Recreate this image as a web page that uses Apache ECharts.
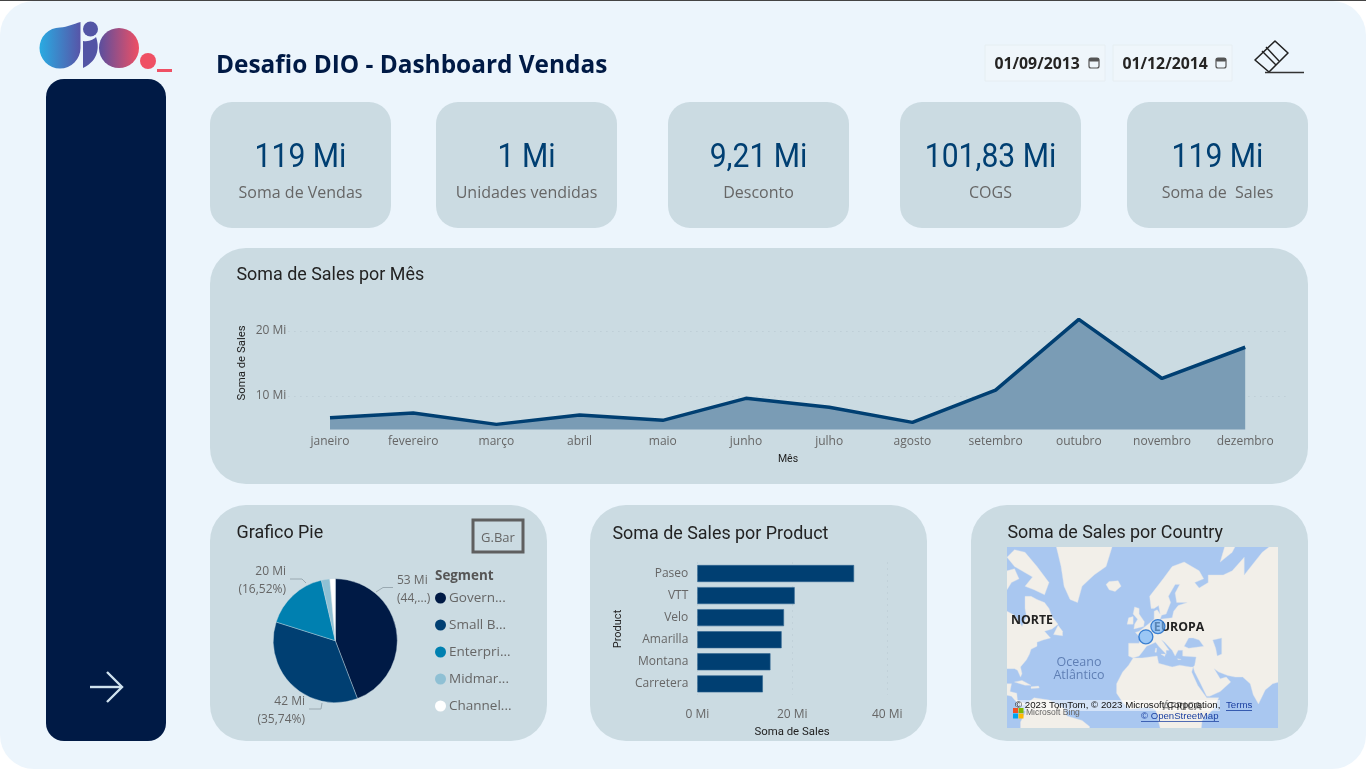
<!DOCTYPE html>
<html><head><meta charset="utf-8">
<script src="https://cdn.jsdelivr.net/npm/echarts@6/dist/echarts.min.js"></script>
<style>html,body{margin:0;padding:0;background:#fff;overflow:hidden}#c{width:1366px;height:769px}</style>
</head><body><div id="c"></div>
<script>
// ---------- data ----------
const months = ['janeiro','fevereiro','março','abril','maio','junho','julho','agosto','setembro','outubro','novembro','dezembro'];
const monthSales = [6.67,7.38,5.64,7.08,6.26,9.64,8.26,5.95,10.9,21.8,12.7,17.5];
const products = ['Paseo','VTT','Velo','Amarilla','Montana','Carretera'];
const productSales = [33,20.5,18.25,17.75,15.4,13.8];
const segments = ['Government','Small Business','Enterprise','Midmarket','Channel Partners'];
const segmentSales = [52.6,42.47,19.66,2.6,1.7];
const segmentPct = ['44,...','35,74%','16,52%','',''];
const kpiValues = ['119 Mi','1 Mi','9,21 Mi','101,83 Mi','119 Mi'];
const kpiNames = ['Soma de Vendas','Unidades vendidas','Desconto','COGS','Soma de  Sales'];
const countries = ['France','Germany'];
const countryLon = [2.5,10.5];
const countryLat = [46.5,51];
// coarse coastlines [lon,lat]
const landShapes = [
 [[-100,30],[-90,30],[-85,30],[-83,29],[-81,25],[-80,27],[-81,31],[-77,35],[-75,38],[-74,40.5],[-70,42],[-70,44],[-66,45],[-61,46],[-65,49],[-60,50],[-56,52],[-60,55],[-62,58],[-65,60],[-70,61],[-74,62],[-78,62],[-78,58],[-77,55],[-80,51],[-82,53],[-85,55.5],[-90,57],[-94,59],[-94,62],[-90,64],[-87,66],[-82,67],[-85,69.5],[-90,69],[-95,68],[-100,68]],
 [[-100,17],[-95,16],[-92,14],[-87,13],[-84,9.5],[-80,7],[-77,8],[-80,9],[-83,10],[-83.5,15],[-88,16],[-87,21],[-90,21],[-91,18.5],[-95,18],[-97,22],[-97,28],[-100,28]],
 [[-90,72],[-85,73.5],[-78,73],[-70,70],[-62,66],[-65,62.5],[-72,64],[-78,65],[-73,67.5],[-85,70]],
 [[-100,76],[-80,76],[-78,74.5],[-92,74]],
 [[-59,47.5],[-53,47],[-53,49],[-56,51.5]],
 [[-85,22],[-80,23],[-74,20],[-78,20]],
 [[-74,19],[-69,19.5],[-68.5,18.3],[-74,18]],
 [[-73,78],[-60,82],[-30,84],[-18,80],[-20,74],[-24,70],[-32,68],[-40,65],[-43,60],[-48,61],[-52,65],[-54,70],[-58,75],[-68,76]],
 [[-24,65.5],[-22,64],[-18,63.5],[-14,65],[-16,66.5],[-22,66.3]],
 [[-5.5,50],[1,51],[1.5,53],[-2,56],[-2,58],[-5,58.5],[-6,56],[-3,54],[-5,52]],
 [[-10,52],[-6,52],[-6,55],[-9,54.5]],
 [[12,79],[25,80],[20,77]],
 [[52,71],[56,75],[68,77],[60,73]],
 [[-9,37],[-6,36],[-2,37],[0,39],[3,42],[6,43],[9,44],[11,42],[16,38],[16,40],[18,40],[13,45],[15,44],[20,40],[22,37],[24,40],[27,40],[27,37],[36,36.5],[35,32],[34,31],[35,28],[39,21],[43,13],[45,13],[52,16],[59,22],[56,25],[52,24],[48,30],[51,28],[57,26],[62,25],[67,25],[72,21],[74,14],[77.5,8],[80,13],[82,17],[87,21],[91,22],[94,17],[97,16],[100,13],[100,77],[80,73],[68,68],[68,72],[60,69],[54,68],[44,68],[44,66],[38,64.5],[35,66],[41,67],[38,69],[28,71],[20,70],[14,67],[5,62],[6,58],[8,58],[11,59],[12,56],[10,57.5],[8,57],[8,54],[4,52],[1,50.5],[-2,49],[-4.5,48.5],[-1,46],[-2,43.5],[-9,43.5]],
 [[-17,15],[-17,21],[-13,28],[-9,32],[-6,36],[0,36],[10,37],[11,33],[20,31],[25,32],[32,31],[34,31],[33,28],[37,20],[43,12],[51,12],[48,5],[40,-3],[39,-12],[13,-12],[9,4],[4,6],[-8,4.5],[-13,9]],
 [[-81,-12],[-81,-4],[-78,2],[-77,8],[-72,12],[-62,10.5],[-52,5],[-50,0],[-40,-3],[-35,-7],[-35,-12]],
 [[9,41],[9.7,41],[9.5,39],[8.5,39]],[[12.5,38],[15.5,38],[15,36.8]],[[23.5,35.5],[26,35.2],[24,35]]
];
const waterShapes = [
 [[12,54],[20,54.5],[21,57],[24,59],[30,60],[23,60],[22,63],[25,65.5],[22,65.5],[17.5,62],[19,60],[16,56],[13,55.5]],
 [[28,42],[31,46],[34,46],[38,45],[41,42],[36,41.5],[31,41]],
 [[47,45],[53,46],[53,38],[50,37],[49,41]]
];
// ---------- helpers ----------
const merc = lat => Math.log(Math.tan(Math.PI/4 + lat*Math.PI/360))*180/Math.PI;
const SEG = '"Open Sans","Noto Sans",sans-serif';
const DIN = 'Roboto,"Noto Sans",sans-serif';
const PANEL = '#cbdbe2', NAVY = '#001a45', BLUE = '#003f72', GREY = '#666666';
const G = echarts.graphic;
G.registerShape('logoD',G.extendPath('M80.5 22 L80.5 48 A20.5 20.5 0 1 1 60 27.5 C68 27 73 24 80.5 22 Z'));
G.registerShape('logoI',G.extendPath('M83 41 C90 42 94 39 96 37 C99 45 100 60 83 68 Z'));
const rect = (x,y,w,h,r,fill,extra) => Object.assign({type:'rect',z:-5,silent:true,shape:{x,y,width:w,height:h,r},style:Object.assign({fill},extra||{})});
const text = (t,x,y,font,fill,align,extra,z) => Object.assign({type:'text',z:z===undefined?1:z,silent:true,x,y,style:{text:t,font,fill,align:align||'left',verticalAlign:'middle'}},extra||{});
const calIcon = x => [rect(x,58,10,10,2,'none',{stroke:'#555',lineWidth:1.2}),rect(x,58,10,3.5,1,'#555')];
const leader = pts => ({type:'polyline',z:1,silent:true,shape:{points:pts},style:{stroke:'#9aa9b1',lineWidth:1,fill:'none'}});

const g = [];
g.push(rect(0,0,1366,769,0,'#ffffff'));
g.push(rect(0,0,1366,1,0,'#444444'));
g.push(rect(0,1,1366,768,[34,34,34,34],'#ecf5fc'));
g.push(rect(46,79,120,662,18,NAVY));
// logo
g.push({type:'logoD',z:1,silent:true,style:{fill:new G.LinearGradient(0,0,1,0,[{offset:0,color:'#29abe2'},{offset:1,color:'#5755a8'}])}});
g.push({type:'circle',z:1,silent:true,shape:{cx:90.5,cy:29,r:7.5},style:{fill:'#5355a5'}});
g.push({type:'logoI',z:1,silent:true,style:{fill:'#5355a5'}});
g.push({type:'circle',z:1,silent:true,shape:{cx:119,cy:48,r:20},style:{fill:new G.LinearGradient(0,0,1,0,[{offset:0,color:'#5a4e9e'},{offset:1,color:'#ef5064'}])}});
g.push({type:'circle',z:1,silent:true,shape:{cx:148,cy:61,r:8},style:{fill:'#ef5064'}});
g.push(Object.assign(rect(157,69,15,3,0,'#ef5064'),{z:1}));
g.push(text('Desafio DIO - Dashboard Vendas',216,66,'bold 24.4px '+SEG,NAVY));
// date slicers
[[985,'01/09/2013',1089],[1113,'01/12/2014',1216]].forEach(([x,t,ix])=>{
  g.push(rect(x,45,x===985?120:119,36,0,'#eff6fb',{stroke:'#e6eef2',lineWidth:1}));
  g.push(text(t,x+9.5,64,'bold 15.8px '+SEG,'#252423'));
  calIcon(ix).forEach(e=>{e.z=1;g.push(e)});
});
// eraser
g.push({type:'polygon',z:1,silent:true,shape:{points:[[1275,41],[1288,53],[1269,72],[1255,60]]},style:{fill:'none',stroke:'#222',lineWidth:1.6,lineJoin:'round'}});
[[1262,51,1276,65],[1266,47,1279,61]].forEach(p=>g.push({type:'line',z:1,silent:true,shape:{x1:p[0],y1:p[1],x2:p[2],y2:p[3]},style:{stroke:'#222',lineWidth:1.4}}));
g.push({type:'line',z:1,silent:true,shape:{x1:1265,y1:72.5,x2:1304,y2:72.5},style:{stroke:'#333',lineWidth:1.4}});
// kpi cards
[210,436,668,900,1127].forEach((x,i)=>{
  g.push(rect(x,102,181,126,22,PANEL));
  g.push(text(kpiValues[i],x+90.5,159,'32px '+DIN,BLUE,'center',{scaleX:0.94,scaleY:1.03}));
  g.push(text(kpiNames[i],x+90.5,193,'16px '+SEG,GREY,'center'));
});
// panels
g.push(rect(210,248,1098,236,36,PANEL));
[210,590,971].forEach(x=>g.push(rect(x,505,337,236,36,PANEL)));
const tf = '17.9px '+DIN;
g.push(text('Soma de Sales por Mês',236.5,276,tf,'#222'));
g.push(text('Grafico Pie',236.5,534,tf,'#222'));
g.push(text('Soma de Sales por Product',612.5,535,tf,'#222'));
g.push(text('Soma de Sales por Country',1007.5,534,tf,'#222'));
// axis names
g.push(text('Soma de Sales',242,363,'11.4px '+DIN,'#222','center',{rotation:Math.PI/2}));
g.push(text('Mês',788,459,'10.5px '+DIN,'#222','center'));
g.push(text('Product',618,629,'11px '+DIN,'#222','center',{rotation:Math.PI/2}));
g.push(text('Soma de Sales',792,732,'11.4px '+DIN,'#222','center'));
// G.Bar
g.push(Object.assign(rect(473,520,50,32,0,'none',{stroke:'#5f5f5f',lineWidth:3}),{z:1}));
g.push(text('G.Bar',498,538,'13px '+SEG,GREY,'center'));
g.push(text('Segment',435,576,'bold 13.4px '+SEG,'#555','left'));
// pie leader lines
g.push(leader([[376,592],[383,587.5],[393,587.5]]));
g.push(leader([[306,583],[302,579],[290,579]]));
g.push(leader([[322,703],[321,709],[309,709]]));
// sidebar arrow
g.push({type:'polyline',z:1,silent:true,shape:{points:[[90,687],[121,687]]},style:{stroke:'#cfe2ee',lineWidth:2.4,fill:'none'}});
g.push({type:'polyline',z:1,silent:true,shape:{points:[[107,672],[122,687],[107,702]]},style:{stroke:'#cfe2ee',lineWidth:2.4,fill:'none'}});
// map labels
g.push(text('NORTE',1011,620,'bold 12.3px '+SEG,'#222','left',null,5));
g.push(text('EUROPA',1179,627,'bold 12.3px '+SEG,'#222','center',null,5));
g.push(text('Oceano',1079,662,'12.5px '+SEG,'#5f7fb4','center',null,5));
g.push(text('Atlântico',1079,675,'12.5px '+SEG,'#5f7fb4','center',null,5));
g.push(text('ÁFRICA',1182,707,'bold 11px '+SEG,'#222','center',null,5));
g.push(Object.assign(rect(1016,700,204,11,0,'rgba(255,255,255,0.5)'),{z:6}));
g.push(text('© 2023 TomTom, © 2023 Microsoft Corporation,',1015,705,'9.7px "Liberation Sans"','#111','left',null,20));
g.push(text('Terms',1226,705,'9.7px "Liberation Sans"','#1a3fa0','left',null,20));
g.push(Object.assign(rect(1226,710,26,0.8,0,'#1a3fa0'),{z:20}));
g.push(text('© OpenStreetMap',1141,716,'9.6px "Liberation Sans"','#1a3fa0','left',null,20));
g.push(Object.assign(rect(1141,721,78,0.8,0,'#1a3fa0'),{z:20}));
[[1013,708,'#f25022'],[1018.5,708,'#7fba00'],[1013,713.5,'#00a4ef'],[1018.5,713.5,'#ffb900']].forEach(a=>g.push(Object.assign(rect(a[0],a[1],5,5,0,a[2]),{z:20})));
g.push(text('Microsoft Bing',1026,713,'8.5px "Liberation Sans"','#666','left',null,20));

const chart = echarts.init(document.getElementById('c'),null,{renderer:'canvas',width:1366,height:769});
const mapTop = merc(74), mapBottom = merc(-8);
chart.setOption({
  animation:false,
  backgroundColor:'transparent',
  graphic:{elements:g},
  grid:[
    {left:288.4,top:300,width:998.4,height:129.5},
    {left:697.3,top:562.5,width:190,height:132.4},
    {left:1007,top:547,width:271,height:181,show:true,backgroundColor:'#a9c7f0',borderWidth:0,z:1}
  ],
  xAxis:[
    {gridIndex:0,type:'category',data:months,boundaryGap:true,axisLine:{show:false},axisTick:{show:false},
     axisLabel:{interval:0,margin:6,color:GREY,fontFamily:'"Open Sans"',fontSize:12,verticalAlign:'top'}},
    {gridIndex:1,type:'value',min:0,max:40,interval:20,axisLine:{show:false},axisTick:{show:false},
     splitLine:{lineStyle:{type:[1,5],color:'#b7c7d0'}},
     axisLabel:{margin:14,color:GREY,fontFamily:'"Open Sans"',fontSize:12,formatter:v=>v+' Mi',showMaxLabel:true}},
    {gridIndex:2,type:'value',min:-90,max:90.5,show:false}
  ],
  yAxis:[
    {gridIndex:0,type:'value',min:4.85,max:24.77,axisLine:{show:false},
     axisTick:{show:false,customValues:[10,20]},
     splitLine:{show:true,lineStyle:{type:[1,5],color:'#b7c7d0'}},
     axisLabel:{customValues:[10,20],margin:2,color:GREY,fontFamily:'"Open Sans"',fontSize:12,formatter:v=>v+' Mi'}},
    {gridIndex:1,type:'category',data:products,inverse:true,axisLine:{show:false},axisTick:{show:false},
     axisLabel:{margin:9,color:GREY,fontFamily:'"Open Sans"',fontSize:12}},
    {gridIndex:2,type:'value',min:mapBottom,max:mapTop,show:false}
  ],
  legend:{
    left:435,top:589,padding:0,orient:'vertical',icon:'circle',itemWidth:11,itemHeight:11,itemGap:9,itemStyle:{borderWidth:0},
    data:segments,selectedMode:false,
    textStyle:{color:GREY,fontFamily:'"Open Sans"',fontSize:13.5,width:65,overflow:'truncate',ellipsis:'...',lineHeight:18,padding:[0,0,0,-2]}
  },
  series:[
    {type:'line',xAxisIndex:0,yAxisIndex:0,data:monthSales,showSymbol:false,z:3,
     lineStyle:{color:BLUE,width:3.5},itemStyle:{color:BLUE},areaStyle:{color:'#7a9cb5',opacity:1},
     silent:true},
    {type:'bar',xAxisIndex:1,yAxisIndex:1,data:productSales,barWidth:17,z:3,silent:true,
     itemStyle:{color:BLUE,borderColor:'#2f6490',borderWidth:0.6}},
    {type:'pie',center:[335.3,640.7],radius:[0,62],startAngle:90,clockwise:true,silent:true,z:3,
     data:segments.map((n,i)=>({name:n,value:segmentSales[i]})),
     color:[NAVY,BLUE,'#0080b0','#8fc0d4','#ffffff'],
     itemStyle:{borderColor:'#cbdbe2',borderWidth:0.4},
     label:{show:true,position:'outside',color:GREY,fontFamily:'"Open Sans"',fontSize:12,lineHeight:18,
       formatter:p=>segmentPct[p.dataIndex]?Math.round(p.value)+' Mi\n('+segmentPct[p.dataIndex]+')':''},
     labelLine:{show:false},
     labelLayout:p=>{
       const pos=[{x:397,y:589.5,align:'left'},{x:305,y:711,align:'right'},{x:286,y:581,align:'right'}][p.dataIndex];
       return pos?{x:pos.x,y:pos.y,align:pos.align,verticalAlign:'middle'}:{};
     }},
    {type:'custom',xAxisIndex:2,yAxisIndex:2,coordinateSystem:'cartesian2d',clip:true,z:2,silent:true,
     data:landShapes.concat(waterShapes).map((s,i)=>[i]),
     encode:{x:-1,y:-1},
     renderItem:(params,api)=>{
       const i=params.dataIndex, n=landShapes.length;
       const shape=i<n?landShapes[i]:waterShapes[i-n];
       return {type:'polygon',shape:{points:shape.map(p=>api.coord([p[0],merc(p[1])]))},
         style:{fill:i<n?'#f2efe9':'#a9c7f0',stroke:'#dfe4ea',lineWidth:0.4}};
     }},
    {type:'scatter',xAxisIndex:2,yAxisIndex:2,z:8,silent:true,symbolSize:14,
     data:countries.map((c,i)=>({name:c,value:[countryLon[i],merc(countryLat[i])]})),
     itemStyle:{color:'rgba(115,180,250,0.85)',borderColor:'#1668c8',borderWidth:1.3}}
  ]
});
</script></body></html>
